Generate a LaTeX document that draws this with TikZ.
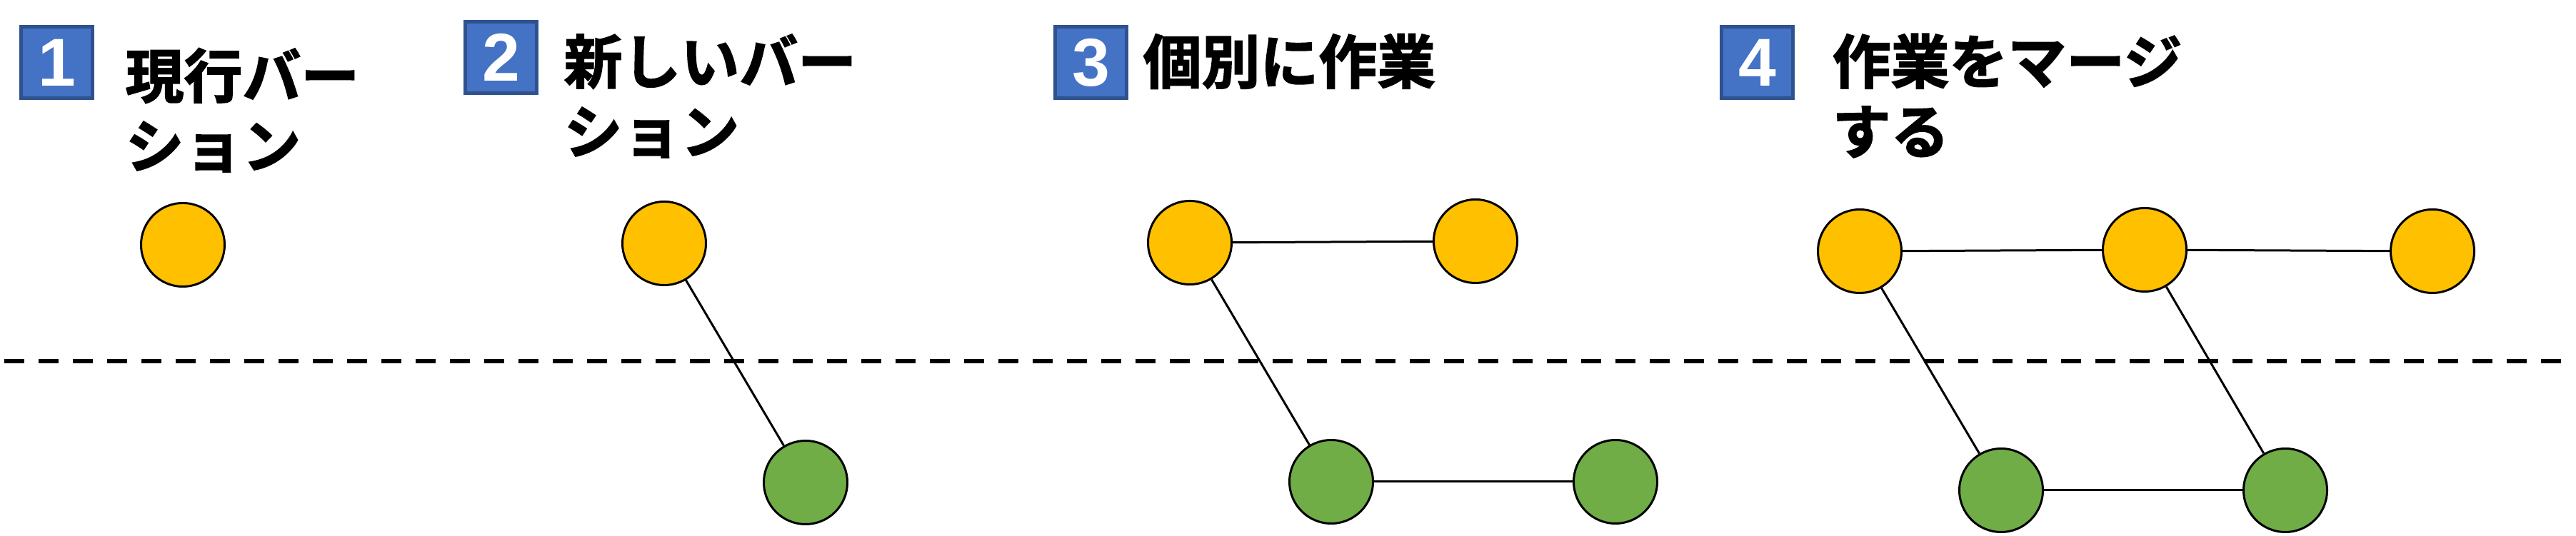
\documentclass[tikz,border=0pt]{standalone}
\usepackage{fontspec}
\newfontfamily\jpfont{Noto Sans CJK JP}[UprightFont=* Bold, FakeBold=2]
\newfontfamily\numfont{Liberation Sans}[UprightFont=* Bold]
\definecolor{mainyellow}{HTML}{FFC000}
\definecolor{branchgreen}{HTML}{70AD47}
\definecolor{stepblue}{HTML}{4472C4}
\definecolor{stepedge}{HTML}{2F528F}
\tikzset{
    commit/.style={circle, draw=black, line width=0.3mm, minimum size=11.7mm, inner sep=0},
    onmain/.style={commit, fill=mainyellow},
    onbranch/.style={commit, fill=branchgreen},
    stepno/.style={draw=stepedge, fill=stepblue, line width=0.45mm, minimum size=10mm,
        inner sep=0, text=white, font=\numfont\fontsize{27}{27}\selectfont},
    steptitle/.style={anchor=base west, inner sep=0, align=left,
        font=\jpfont\fontsize{23.3}{27.9}\selectfont},
    link/.style={line width=0.3mm},
}
\begin{document}
\begin{tikzpicture}
    \useasboundingbox (0, 0) rectangle (36.07, 7.51);

    \coordinate (lineL) at (0.06, 2.45);
    \coordinate (lineR) at (35.93, 2.45);
    \draw[line width = 0.65mm, dash pattern = on 2.77mm off 2.03mm]
        (lineL) -- (lineR);

    \node[stepno] (s1) at (0.795, 6.635) {1};
    \node[stepno] (s2) at (7.015, 6.705) {2};
    \node[stepno] (s3) at (15.275, 6.635) {3};
    \node[stepno] (s4) at (24.605, 6.635) {4};

    % base anchor sits on the last line
    \node[steptitle] (t1) at (1.75, 5.16) {現行バー\\ション};
    \node[steptitle] (t2) at (7.89, 5.36) {新しいバー\\ション};
    \node[steptitle] (t3) at (16.00, 6.34) {個別に作業};
    \node[steptitle] (t4) at (25.65, 5.36) {作業をマージ\\する};

    \node[onmain] (a1) at (2.56, 4.08) {};

    \node[onmain] (b1) at (9.30, 4.10) {};
    \node[onbranch] (b2) at (11.28, 0.75) {};

    \node[onmain] (c1) at (16.66, 4.11) {};
    \node[onmain] (c2) at (20.66, 4.13) {};
    \node[onbranch] (c3) at (18.64, 0.76) {};
    \node[onbranch] (c4) at (22.62, 0.76) {};

    \node[onmain] (d1) at (26.04, 3.99) {};
    \node[onmain] (d2) at (30.03, 4.01) {};
    \node[onmain] (d3) at (34.06, 3.99) {};
    \node[onbranch] (d4) at (28.02, 0.64) {};
    \node[onbranch] (d5) at (32.00, 0.64) {};

    \foreach \u/\v in {b1/b2, c1/c2, c1/c3, c3/c4, d1/d2, d2/d3, d1/d4, d4/d5, d2/d5}
        \draw[link] (\u) -- (\v);

\end{tikzpicture}
\end{document}
